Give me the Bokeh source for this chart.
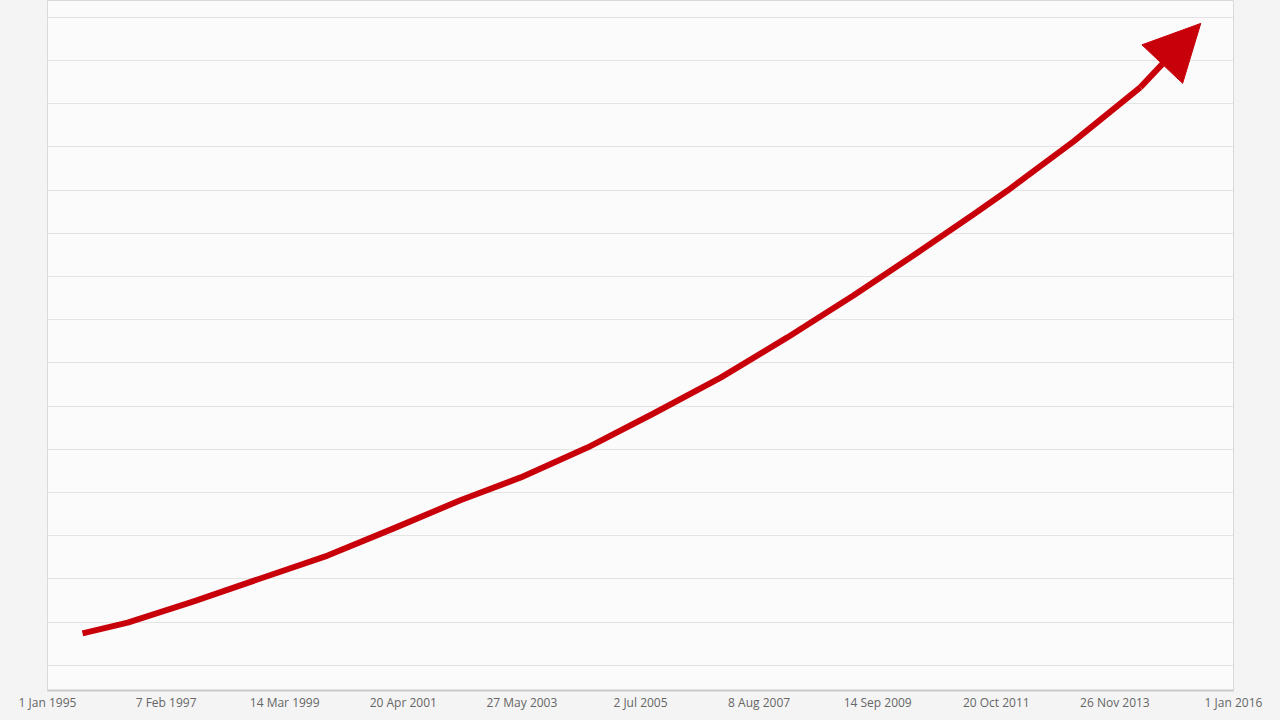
from bokeh.plotting import figure
from bokeh.models import Range1d, FixedTicker, Arrow, NormalHead
from bokeh.embed import file_html
from bokeh.resources import INLINE

# ---- data ----
years = [1995.62, 1996.42, 1997.59, 1998.77, 1999.96, 2001.13, 2002.31, 2003.38,
         2004.56, 2005.73, 2006.92, 2008.10, 2009.27, 2010.46, 2011.40, 2012.00,
         2013.17, 2014.35]
values = [1.74, 1.99, 2.48, 3.01, 3.54, 4.17, 4.82, 5.35,
          6.04, 6.83, 7.66, 8.59, 9.56, 10.60, 11.44, 11.99,
          13.13, 14.38]
tip_year = 2015.42
tip_value = 15.86

tick_years = [1995.0, 1997.1, 1999.2, 2001.3, 2003.4, 2005.5, 2007.6, 2009.7, 2011.8, 2013.9, 2016.0]
tick_labels = ["1 Jan 1995", "7 Feb 1997", "14 Mar 1999", "20 Apr 2001", "27 May 2003",
               "2 Jul 2005", "8 Aug 2007", "14 Sep 2009", "20 Oct 2011", "26 Nov 2013",
               "1 Jan 2016"]
grid_levels = list(range(1, 17))

RED = "#c8000a"
BG = "#f4f4f4"

p = figure(frame_width=1186, frame_height=690, output_backend="svg", toolbar_location=None,
           x_range=Range1d(1995.0, 2016.0), y_range=Range1d(0.417, 16.39),
           y_axis_location=None, min_border_left=47, min_border_right=31,
           min_border_top=0, min_border_bottom=0)

p.border_fill_color = BG
p.background_fill_color = "#fbfbfb"
p.outline_line_color = "#d9d9d9"
p.outline_line_width = 1

p.xgrid.visible = False
p.ygrid.ticker = FixedTicker(ticks=grid_levels)
p.ygrid.grid_line_color = "#e4e4e4"
p.ygrid.grid_line_width = 1

p.xaxis.ticker = FixedTicker(ticks=tick_years)
p.xaxis.major_label_overrides = {t: l for t, l in zip(tick_years, tick_labels)}
p.xaxis.axis_line_color = "#c9c9c9"
p.xaxis.axis_line_width = 2
p.xaxis.major_tick_line_color = None
p.xaxis.minor_tick_line_color = None
p.xaxis.major_tick_out = 0
p.xaxis.major_tick_in = 0
p.xaxis.minor_tick_out = 0
p.xaxis.axis_label_standoff = 0
p.xaxis.major_label_standoff = 3
p.xaxis.major_label_text_font = "Open Sans"
p.xaxis.major_label_text_font_size = "12px"
p.xaxis.major_label_text_color = "#666666"

p.line(years, values, line_color=RED, line_width=6, line_join="round")

p.add_layout(Arrow(end=NormalHead(size=56, fill_color=RED, line_color=RED, line_width=1),
                   x_start=years[-1], y_start=values[-1], x_end=tip_year, y_end=tip_value,
                   line_color=RED, line_width=6))

html = file_html(p, INLINE)
html = html.replace("<head>", "<head><style>html, body { background: %s; }</style>" % BG, 1)
open("out.html", "w").write(html)
